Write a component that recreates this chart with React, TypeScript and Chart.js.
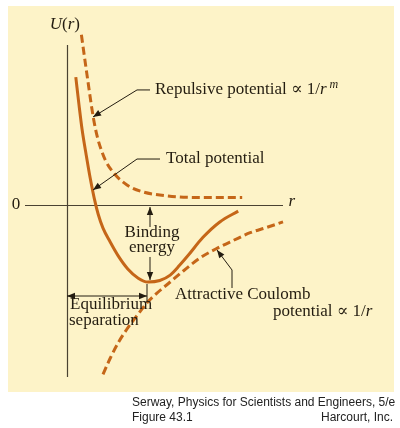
import React, { useEffect, useRef } from "react";
import { Chart, registerables } from "chart.js";

Chart.register(...registerables);

// ---- data (arbitrary schematic units: r in units of equilibrium separation, U in units of binding energy)
const repulsiveR = [0.18, 0.25, 0.33, 0.38, 0.43, 0.48, 0.58, 0.75, 0.95, 1.16, 1.5, 1.85, 2.19];
const repulsiveU = [2.21, 1.69, 1.13, 0.88, 0.71, 0.58, 0.42, 0.26, 0.17, 0.13, 0.1, 0.097, 0.097];

const totalR = [0.11, 0.15, 0.19, 0.24, 0.29, 0.34, 0.39, 0.45, 0.54, 0.64, 0.76, 0.89, 1.01, 1.16, 1.29, 1.41, 1.51, 1.7, 1.91, 2.14];
const totalU = [1.66, 1.3, 0.97, 0.65, 0.35, 0.09, -0.12, -0.3, -0.48, -0.66, -0.83, -0.95, -1.0, -0.98, -0.91, -0.78, -0.66, -0.42, -0.22, -0.08];

const coulombR = [0.45, 0.54, 0.64, 0.75, 0.88, 1.0, 1.14, 1.29, 1.45, 1.66, 1.88, 2.08, 2.29, 2.5, 2.7];
const coulombU = [-2.2, -1.99, -1.79, -1.61, -1.43, -1.27, -1.13, -1.0, -0.86, -0.69, -0.56, -0.46, -0.36, -0.29, -0.22];

const CAPTION_LINE1 = "Serway, Physics for Scientists and Engineers, 5/e";
const CAPTION_LEFT2 = "Figure 43.1";
const CAPTION_RIGHT2 = "Harcourt, Inc.";

// ---- scale bounds
const X_MIN = -0.8375;
const X_MAX = 4.1625;
const Y_MIN = -2.896;
const Y_MAX = 2.662;

const CURVE = "#c56618";
const INK = "#231c10";
const AXIS = "#4a4232";
const CREAM = "#fdf3c8";
const SERIF = '"Liberation Serif", "DejaVu Serif", serif';

const toPts = (xs: number[], ys: number[]) => xs.map((x, i) => ({ x, y: ys[i] }));

function arrowHead(ctx: CanvasRenderingContext2D, fx: number, fy: number, tx: number, ty: number) {
  const a = Math.atan2(ty - fy, tx - fx);
  const L = 8, W = 3.2;
  ctx.beginPath();
  ctx.moveTo(tx, ty);
  ctx.lineTo(tx - L * Math.cos(a) + W * Math.sin(a), ty - L * Math.sin(a) - W * Math.cos(a));
  ctx.lineTo(tx - L * Math.cos(a) - W * Math.sin(a), ty - L * Math.sin(a) + W * Math.cos(a));
  ctx.closePath();
  ctx.fill();
}

const decor = {
  id: "decor",
  beforeDraw(chart: any) {
    const ctx = chart.ctx as CanvasRenderingContext2D;
    ctx.save();
    ctx.fillStyle = CREAM;
    ctx.fillRect(8, 6, 386, 386);
    // caption
    ctx.fillStyle = "#222";
    ctx.font = '12px "Liberation Sans", Arial, sans-serif';
    ctx.textBaseline = "middle";
    ctx.textAlign = "left";
    ctx.fillText(CAPTION_LINE1, 132, 403);
    ctx.fillText(CAPTION_LEFT2, 132, 418);
    ctx.textAlign = "right";
    ctx.fillText(CAPTION_RIGHT2, 393, 418);
    ctx.restore();
  },
  beforeDatasetsDraw(chart: any) {
    const ctx = chart.ctx as CanvasRenderingContext2D;
    const X = (v: number) => chart.scales.x.getPixelForValue(v);
    const Y = (v: number) => chart.scales.y.getPixelForValue(v);
    ctx.save();
    ctx.strokeStyle = AXIS;
    ctx.lineWidth = 1.2;
    ctx.beginPath();
    ctx.moveTo(Math.round(X(0)) + 0.5, Y(2.078));
    ctx.lineTo(Math.round(X(0)) + 0.5, Y(-2.234));
    ctx.moveTo(X(-0.525), Math.round(Y(0)) + 0.5);
    ctx.lineTo(X(2.7), Math.round(Y(0)) + 0.5);
    ctx.stroke();
    ctx.restore();
  },
  afterDatasetsDraw(chart: any) {
    const ctx = chart.ctx as CanvasRenderingContext2D;
    const X = (v: number) => chart.scales.x.getPixelForValue(v);
    const Y = (v: number) => chart.scales.y.getPixelForValue(v);
    ctx.save();
    ctx.strokeStyle = INK;
    ctx.fillStyle = INK;
    ctx.lineWidth = 1;

    const poly = (pts: number[][], headAtStart: boolean, headAtEnd: boolean) => {
      const p = pts.map(([r, u]) => [X(r), Y(u)]);
      ctx.beginPath();
      ctx.moveTo(p[0][0], p[0][1]);
      for (let i = 1; i < p.length; i++) ctx.lineTo(p[i][0], p[i][1]);
      ctx.stroke();
      if (headAtEnd) {
        const n = p.length;
        arrowHead(ctx, p[n - 2][0], p[n - 2][1], p[n - 1][0], p[n - 1][1]);
      }
      if (headAtStart) arrowHead(ctx, p[1][0], p[1][1], p[0][0], p[0][1]);
    };

    // leaders
    poly([[1.0375, 1.494], [0.875, 1.494], [0.325, 1.143]], false, true);
    poly([[1.1625, 0.597], [0.875, 0.597], [0.325, 0.195]], false, true);
    poly([[1.0375, -0.286], [1.0375, -0.026]], false, true);
    poly([[1.0375, -0.675], [1.0375, -0.974]], false, true);
    poly([[0.0, -1.182], [1.0, -1.182]], true, true);
    poly([[1.0, -1.026], [1.0, -1.26]], false, false);
    poly([[2.0625, -1.078], [2.0625, -0.844], [1.875, -0.584]], false, true);

    // text
    ctx.textBaseline = "middle";
    const norm = `17px ${SERIF}`;
    const ital = `italic 17px ${SERIF}`;
    const txt = (s: string, r: number, u: number, align: CanvasTextAlign = "left", font = norm) => {
      ctx.font = font;
      ctx.textAlign = align;
      ctx.fillText(s, X(r), Y(u));
    };
    const runs = (parts: [string, string, number][], r: number, u: number) => {
      let x = X(r);
      const y = Y(u);
      ctx.textAlign = "left";
      for (const [s, f, dy] of parts) {
        ctx.font = f;
        ctx.fillText(s, x, y + dy);
        x += ctx.measureText(s).width;
      }
    };

    runs([["Repulsive potential \u221D 1/", norm, 0], ["r", ital, 0], [" m", `italic 12px ${SERIF}`, -5]], 1.1, 1.494);
    txt("Total potential", 1.2375, 0.597);
    txt("Binding", 1.0625, -0.364, "center");
    txt("energy", 1.0625, -0.558, "center");
    txt("Equilibrium", 0.0375, -1.299);
    txt("separation", 0.025, -1.506);
    txt("Attractive Coulomb", 1.35, -1.169);
    runs([["potential \u221D 1/", norm, 0], ["r", ital, 0]], 2.575, -1.39);
    txt("0", -0.6375, 0, "center");
    txt("r", 2.81, 0.04, "center", ital);
    runs([["U", ital, 0], ["(", norm, 0], ["r", ital, 0], [")", norm, 0]], -0.215, 2.34);
    ctx.restore();
  },
};

export default function App() {
  const ref = useRef<HTMLCanvasElement>(null);
  useEffect(() => {
    if (!ref.current) return;
    const chart = new Chart(ref.current, {
      type: "scatter",
      data: {
        datasets: [
          {
            label: "Repulsive potential",
            data: toPts(repulsiveR, repulsiveU),
            showLine: true,
            borderColor: CURVE,
            borderWidth: 3,
            borderDash: [8, 4],
            pointRadius: 0,
            cubicInterpolationMode: "monotone",
          },
          {
            label: "Attractive Coulomb potential",
            data: toPts(coulombR, coulombU),
            showLine: true,
            borderColor: CURVE,
            borderWidth: 3,
            borderDash: [8, 4],
            pointRadius: 0,
            cubicInterpolationMode: "monotone",
          },
          {
            label: "Total potential",
            data: toPts(totalR, totalU),
            showLine: true,
            borderColor: CURVE,
            borderWidth: 3,
            pointRadius: 0,
            cubicInterpolationMode: "monotone",
          },
        ],
      },
      options: {
        responsive: false,
        animation: false,
        events: [],
        layout: { padding: 0 },
        scales: {
          x: { type: "linear", display: false, min: X_MIN, max: X_MAX },
          y: { type: "linear", display: false, min: Y_MIN, max: Y_MAX },
        },
        plugins: { legend: { display: false }, tooltip: { enabled: false } },
      },
      plugins: [decor],
    } as any);
    return () => chart.destroy();
  }, []);
  return (
    <div style={{ position: "absolute", left: 0, top: 0, width: 400, height: 428 }}>
      <canvas ref={ref} width={400} height={428} style={{ display: "block" }} />
    </div>
  );
}
